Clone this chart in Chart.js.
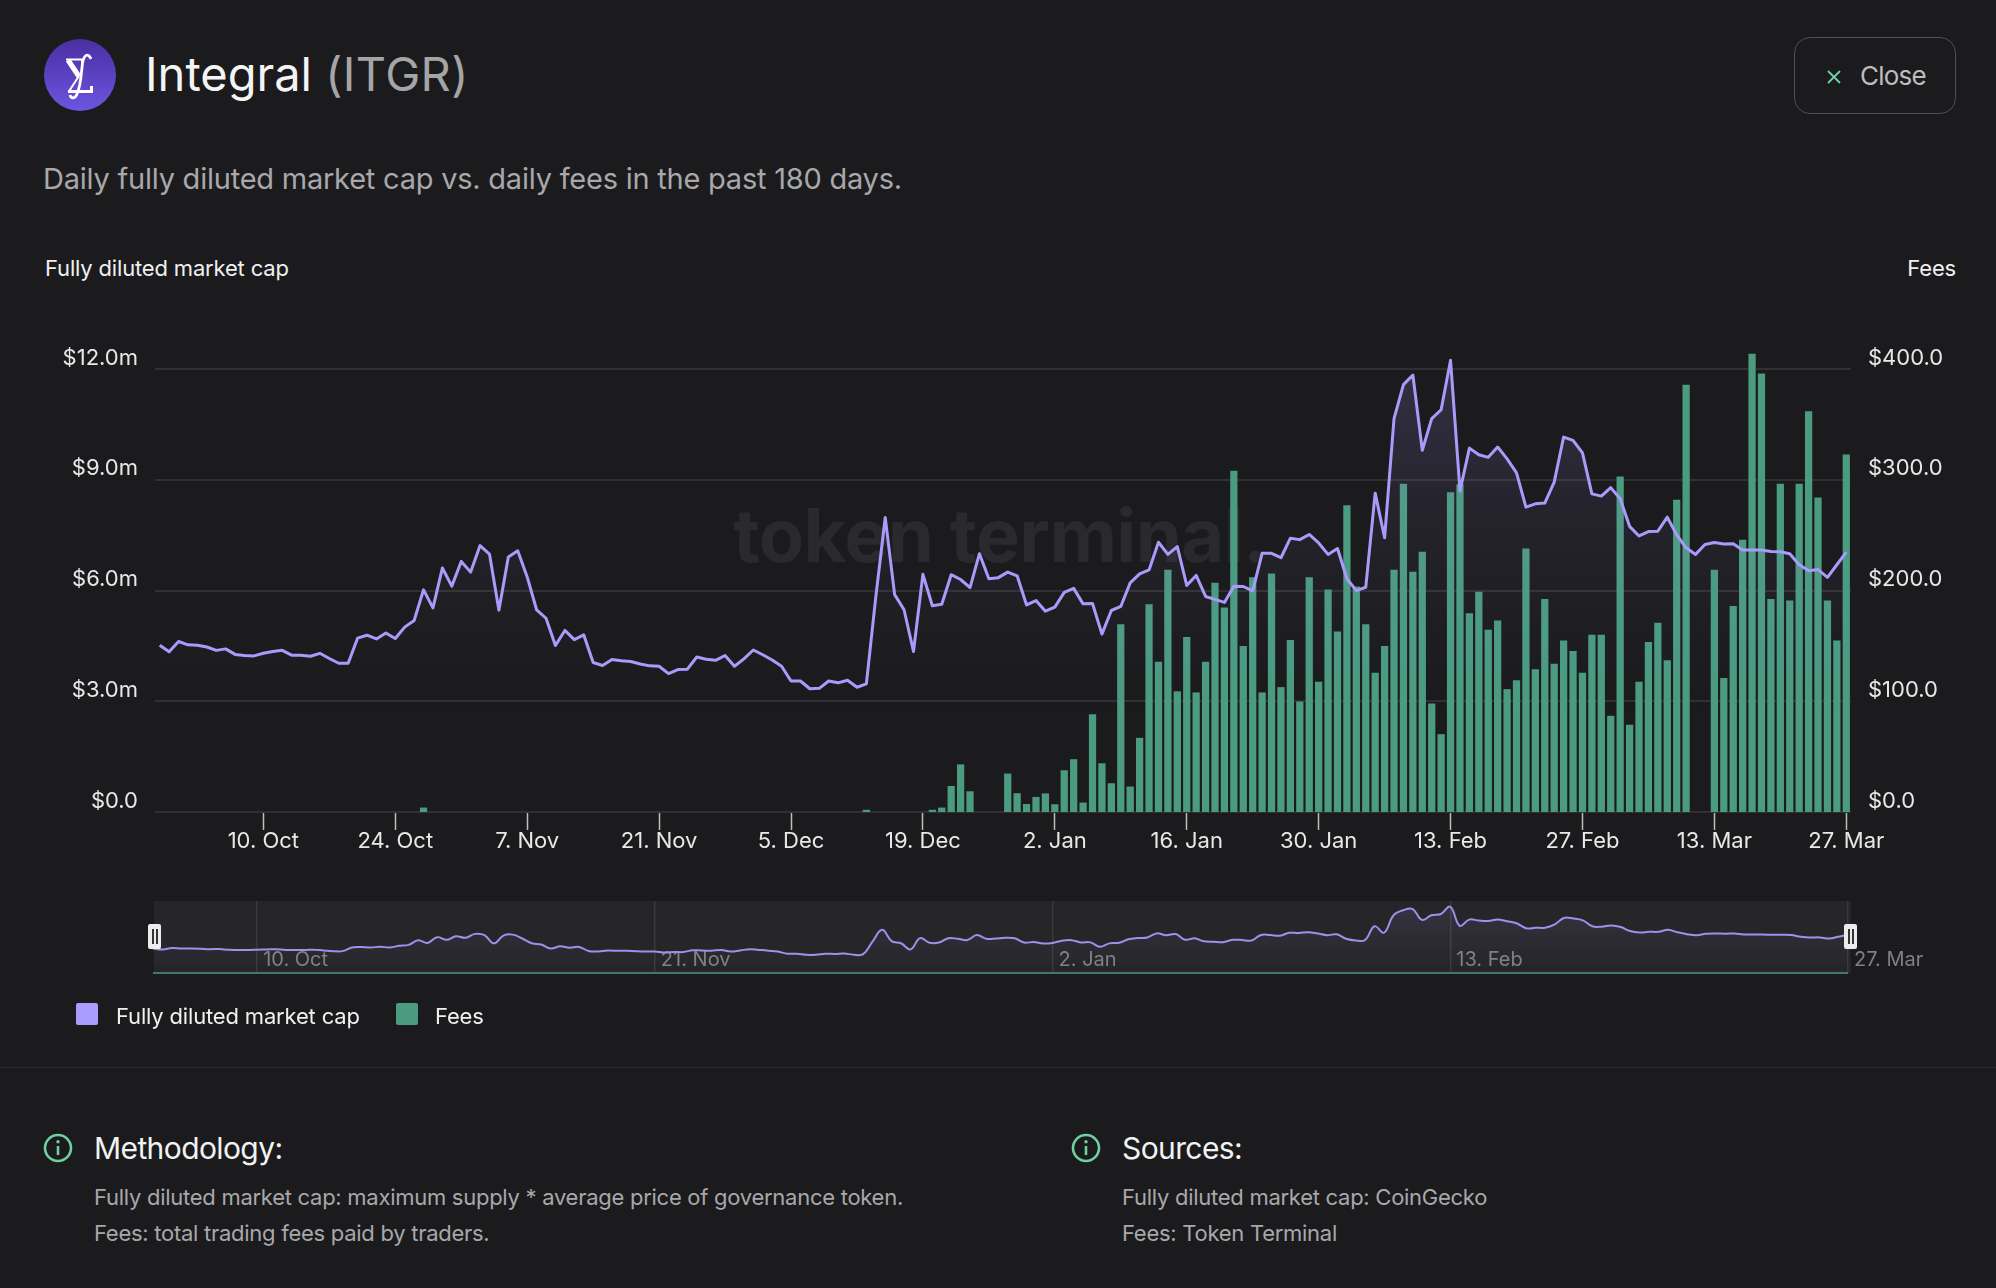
<!DOCTYPE html>
<html>
<head>
<meta charset="utf-8">
<title>Integral (ITGR)</title>
<script src="https://cdn.jsdelivr.net/npm/chart.js@4"></script>
<style>
  html, body { margin: 0; padding: 0; background: #1b1b1d; }
  body { width: 1996px; height: 1288px; position: relative; overflow: hidden; font-family: Inter, sans-serif; }
  .t { position: absolute; white-space: nowrap; line-height: 1; }
  canvas { position: absolute; left: 0; }
  #mainChart { top: 341px; }
  #navChart { top: 895px; }
  #navBox { position: absolute; left: 154px; top: 901px; width: 1697px; height: 73px; background: #262629; }
  .handle { position: absolute; top: 924px; width: 13px; height: 25px; background: #ececec; border-radius: 2px; }
  .handle i { position: absolute; top: 5px; width: 2px; height: 15px; background: #333; }
  .swatch { position: absolute; top: 1003px; width: 22px; height: 22px; border-radius: 2px; }
  #divider { position: absolute; left: 0; top: 1067px; width: 1996px; height: 1px; background: #2e2e30; }
  #closeBtn { position: absolute; left: 1794px; top: 37px; width: 160px; height: 75px; border: 1.5px solid #4e4f50; border-radius: 16px; }
  #watermark { font-weight: 700; font-size: 74px; color: #2a2a2e; left: 733px; top: 498px; letter-spacing: -0.6px; }
  .sub { font-size: 22px; color: #a8a8aa; letter-spacing: -0.27px; }
  .head { font-size: 30px; color: #f2f2f2; letter-spacing: -0.6px; }
  .lab { font-size: 22px; color: #f0f0f0; letter-spacing: -0.17px; }
</style>
</head>
<body>
<svg style="position:absolute;left:44px;top:39px" width="72" height="72" viewBox="0 0 72 72">
  <defs><linearGradient id="logoGrad" x1="0" y1="0" x2="0" y2="1">
    <stop offset="0" stop-color="#4a2ea3"/><stop offset="1" stop-color="#6c55e0"/>
  </linearGradient></defs>
  <circle cx="36" cy="36" r="36" fill="url(#logoGrad)"/>
  <path d="M22 20.5H38V24" fill="none" stroke="#fff" stroke-width="2"/>
  <path d="M24 21L35 37.5" fill="none" stroke="#fff" stroke-width="5"/>
  <path d="M35 37L24.5 53" fill="none" stroke="#fff" stroke-width="2"/>
  <path d="M24 52.5H47.5V47" fill="none" stroke="#fff" stroke-width="3"/>
  <path d="M47 20C44 13 40 16 38.5 24C37 36 37 46 33 55C31 60 27 60 26 56" fill="none" stroke="#fff" stroke-width="2.8"/>
</svg>
<div class="t" style="left:145px;top:50px;font-size:47px;color:#f4f4f4">Integral <span style="color:#a5a5a7;letter-spacing:0.4px">(ITGR)</span></div>
<div id="closeBtn"></div>
<svg style="position:absolute;left:1826px;top:69px" width="16" height="16" viewBox="0 0 16 16"><path d="M2 2L14 14M14 2L2 14" stroke="#6fd0a6" stroke-width="1.8"/></svg>
<div class="t" style="left:1860px;top:63px;font-size:26px;color:#bdbdbd;letter-spacing:-0.8px">Close</div>
<div class="t" style="left:43px;top:164px;font-size:29px;color:#a8a8aa;letter-spacing:-0.23px">Daily fully diluted market cap vs. daily fees in the past 180 days.</div>
<div class="t lab" style="left:45px;top:257px">Fully diluted market cap</div>
<div class="t lab" style="right:40px;top:257px">Fees</div>
<div class="t" id="watermark">token terminal.</div>
<canvas id="mainChart" width="1996" height="520"></canvas>
<div id="navBox"></div>
<canvas id="navChart" width="1996" height="85"></canvas>
<div class="handle" style="left:148px"><i style="left:4px"></i><i style="left:8px"></i></div>
<div class="handle" style="left:1844px"><i style="left:4px"></i><i style="left:8px"></i></div>
<div class="swatch" style="left:76px;background:#ab9cff"></div>
<div class="t lab" style="left:116px;top:1005px">Fully diluted market cap</div>
<div class="swatch" style="left:396px;background:#4a9b80"></div>
<div class="t lab" style="left:435px;top:1005px">Fees</div>
<div id="divider"></div>
<svg style="position:absolute;left:43px;top:1133px" width="30" height="30" viewBox="0 0 30 30"><circle cx="15" cy="15" r="13" fill="none" stroke="#6fcf9f" stroke-width="2.6"/><path d="M15 13V22" stroke="#6fcf9f" stroke-width="2.6"/><circle cx="15" cy="8.8" r="1.7" fill="#6fcf9f"/></svg>
<div class="t head" style="left:94px;top:1133px">Methodology:</div>
<div class="t sub" style="left:94px;top:1186px">Fully diluted market cap: maximum supply * average price of governance token.</div>
<div class="t sub" style="left:94px;top:1222px">Fees: total trading fees paid by traders.</div>
<svg style="position:absolute;left:1071px;top:1133px" width="30" height="30" viewBox="0 0 30 30"><circle cx="15" cy="15" r="13" fill="none" stroke="#6fcf9f" stroke-width="2.6"/><path d="M15 13V22" stroke="#6fcf9f" stroke-width="2.6"/><circle cx="15" cy="8.8" r="1.7" fill="#6fcf9f"/></svg>
<div class="t head" style="left:1122px;top:1133px">Sources:</div>
<div class="t sub" style="left:1122px;top:1186px">Fully diluted market cap: CoinGecko</div>
<div class="t sub" style="left:1122px;top:1222px">Fees: Token Terminal</div>

<script>
const dates = [
  "29. Sep","30. Sep",
  "1. Oct","2. Oct","3. Oct","4. Oct","5. Oct","6. Oct","7. Oct","8. Oct","9. Oct","10. Oct","11. Oct","12. Oct","13. Oct","14. Oct","15. Oct","16. Oct",
  "17. Oct","18. Oct","19. Oct","20. Oct","21. Oct","22. Oct","23. Oct","24. Oct","25. Oct","26. Oct","27. Oct","28. Oct","29. Oct","30. Oct","31. Oct",
  "1. Nov","2. Nov","3. Nov","4. Nov","5. Nov","6. Nov","7. Nov","8. Nov","9. Nov","10. Nov","11. Nov","12. Nov","13. Nov","14. Nov","15. Nov",
  "16. Nov","17. Nov","18. Nov","19. Nov","20. Nov","21. Nov","22. Nov","23. Nov","24. Nov","25. Nov","26. Nov","27. Nov","28. Nov","29. Nov","30. Nov",
  "1. Dec","2. Dec","3. Dec","4. Dec","5. Dec","6. Dec","7. Dec","8. Dec","9. Dec","10. Dec","11. Dec","12. Dec","13. Dec","14. Dec","15. Dec","16. Dec",
  "17. Dec","18. Dec","19. Dec","20. Dec","21. Dec","22. Dec","23. Dec","24. Dec","25. Dec","26. Dec","27. Dec","28. Dec","29. Dec","30. Dec","31. Dec",
  "1. Jan","2. Jan","3. Jan","4. Jan","5. Jan","6. Jan","7. Jan","8. Jan","9. Jan","10. Jan","11. Jan","12. Jan","13. Jan","14. Jan","15. Jan","16. Jan",
  "17. Jan","18. Jan","19. Jan","20. Jan","21. Jan","22. Jan","23. Jan","24. Jan","25. Jan","26. Jan","27. Jan","28. Jan","29. Jan","30. Jan","31. Jan",
  "1. Feb","2. Feb","3. Feb","4. Feb","5. Feb","6. Feb","7. Feb","8. Feb","9. Feb","10. Feb","11. Feb","12. Feb","13. Feb","14. Feb",
  "15. Feb","16. Feb","17. Feb","18. Feb","19. Feb","20. Feb","21. Feb","22. Feb","23. Feb","24. Feb","25. Feb","26. Feb","27. Feb","28. Feb",
  "1. Mar","2. Mar","3. Mar","4. Mar","5. Mar","6. Mar","7. Mar","8. Mar","9. Mar","10. Mar","11. Mar","12. Mar","13. Mar","14. Mar",
  "15. Mar","16. Mar","17. Mar","18. Mar","19. Mar","20. Mar","21. Mar","22. Mar","23. Mar","24. Mar","25. Mar","26. Mar","27. Mar"
];

// fully diluted market cap, $m
const marketCap = [
  4.52,4.34,4.62,4.53,4.52,4.47,4.38,4.42,4.27,4.24,
  4.23,4.30,4.35,4.38,4.25,4.25,4.22,4.30,4.16,4.03,
  4.03,4.71,4.79,4.69,4.85,4.70,5.01,5.19,6.02,5.53,
  6.61,6.12,6.79,6.50,7.22,6.99,5.47,6.91,7.08,6.37,
  5.48,5.25,4.51,4.92,4.67,4.80,4.05,3.97,4.13,4.10,
  4.08,4.01,3.96,3.95,3.75,3.86,3.87,4.20,4.14,4.11,
  4.24,3.95,4.15,4.39,4.26,4.12,3.95,3.55,3.55,3.34,
  3.35,3.55,3.50,3.57,3.38,3.47,5.83,7.98,5.89,5.48,
  4.35,6.44,5.59,5.63,6.43,6.30,6.08,7.00,6.32,6.35,
  6.50,6.40,5.61,5.73,5.44,5.55,5.95,6.06,5.64,5.65,
  4.82,5.46,5.57,6.21,6.45,6.56,7.31,6.98,7.19,6.14,
  6.41,5.84,5.76,5.68,6.12,6.11,5.99,7.01,7.01,6.89,
  7.42,7.38,7.52,7.29,6.98,7.14,6.32,6.00,6.09,8.64,
  7.43,10.66,11.58,11.84,9.80,10.66,10.90,12.24,8.70,9.86,
  9.68,9.61,9.89,9.57,9.19,8.26,8.35,8.37,8.94,10.16,
  10.07,9.73,8.62,8.56,8.79,8.49,7.74,7.48,7.60,7.61,
  7.99,7.51,7.16,6.98,7.25,7.30,7.26,7.27,7.10,7.10,
  7.10,7.06,7.05,7.00,6.70,6.54,6.57,6.36,6.70,7.04
];

// daily fees, $
const fees = [
  0,0,0,0,0,0,0,0,0,0,
  0,0,0,0,0,0,0,0,0,0,
  0,0,0,0,0,0,0,0,4,0,
  0,0,0,0,0,0,0,0,0,0,
  0,0,0,0,0,0,0,0,0,0,
  0,0,0,0,0,0,0,0,0,0,
  0,0,0,0,0,0,0,0,0,0,
  0,0,0,0,0,2,0,0,0,0,
  0,0,2,4,23.5,43,18.7,0,0,0,
  34.7,17,7.2,13.6,16.8,7,37.7,47.7,8.5,88.4,
  44,26,169.5,23,67,187.6,135.7,218.7,109,158,
  108,135.7,207,184.6,308.3,150,212,108,215.4,112.8,
  155.4,99.8,212,117.6,201,163,277,203.6,169.5,125.8,
  150,218.7,296.5,217,235,98,70.3,288.7,296,179.5,
  199,164.7,172.9,111,119,238,129,192.5,134,155,
  145.4,125.8,160,160,86.9,303,78.7,117.6,153.5,171,
  137,282,386,0,0,218.7,121,186,246,414,
  396,192.5,296.5,191,296.5,362,284,191,155,322.8
];

const capTicks = [0, 3, 6, 9, 12];
const feeTicks = [0, 100, 200, 300, 400];
const mainTickDays = ["10. Oct","24. Oct","7. Nov","21. Nov","5. Dec","19. Dec","2. Jan","16. Jan","30. Jan","13. Feb","27. Feb","13. Mar","27. Mar"];
const navTickDays = ["10. Oct","21. Nov","2. Jan","13. Feb","27. Mar"];

const LINE = "#a99bfb";
const BAR = "#4a9b80";
const FONT = "Inter, sans-serif";

function mainArea(context) {
  if (!context.chart.chartArea) return "transparent";
  const g = context.chart.ctx.createLinearGradient(0, 28, 0, 379);
  g.addColorStop(0, "rgba(170, 155, 255, 0.17)");
  g.addColorStop(0.4, "rgba(170, 155, 255, 0.07)");
  g.addColorStop(0.72, "rgba(170, 155, 255, 0.025)");
  g.addColorStop(1, "rgba(170, 155, 255, 0)");
  return g;
}

function navArea(context) {
  if (!context.chart.chartArea) return "transparent";
  const g = context.chart.ctx.createLinearGradient(0, 5, 0, 75);
  g.addColorStop(0, "rgba(170, 155, 255, 0.12)");
  g.addColorStop(1, "rgba(170, 155, 255, 0)");
  return g;
}

// keep only the listed days as ticks
function keepTicks(days) {
  return scale => {
    scale.ticks = days.map(d => ({ value: dates.indexOf(d) }));
  };
}

new Chart(document.getElementById("mainChart"), {
  type: "bar",
  data: {
    labels: dates,
    datasets: [
      {
        type: "line",
        label: "Fully diluted market cap",
        data: marketCap,
        yAxisID: "cap",
        order: 0,
        borderColor: LINE,
        borderWidth: 3,
        borderJoinStyle: "round",
        pointRadius: 0,
        tension: 0,
        fill: "origin",
        backgroundColor: mainArea
      },
      {
        label: "Fees",
        data: fees,
        yAxisID: "fees",
        order: 1,
        backgroundColor: BAR,
        categoryPercentage: 1,
        barPercentage: 0.77
      }
    ]
  },
  options: {
    responsive: false,
    animation: false,
    devicePixelRatio: 1,
    layout: { padding: { top: 6, left: 0, right: 0, bottom: 0 } },
    plugins: { legend: { display: false } },
    scales: {
      x: {
        type: "category",
        offset: true,
        afterBuildTicks: keepTicks(mainTickDays),
        afterFit: s => { s.height = 49; s.paddingLeft = 0; s.paddingRight = 0; },
        border: { display: false },
        grid: { offset: false, drawOnChartArea: false, tickLength: 18, tickColor: "#bdbdbd", tickWidth: 1.5 },
        ticks: { autoSkip: false, maxRotation: 0, padding: -2, color: "#e8e8e8", font: { family: FONT, size: 22 } }
      },
      cap: {
        position: "left",
        min: 0,
        max: 12.6,
        afterBuildTicks: s => { s.ticks = capTicks.map(v => ({ value: v })); },
        afterFit: s => { s.width = 155; s.paddingTop = 0; s.paddingBottom = 0; },
        border: { display: false },
        grid: { color: "#303032", lineWidth: 2, drawTicks: false },
        ticks: {
          padding: 17,
          labelOffset: -11,
          color: "#e8e8e8",
          font: { family: FONT, size: 22 },
          callback: v => (v === 0 ? "$0.0" : `$${v.toFixed(1)}m`)
        }
      },
      fees: {
        position: "right",
        min: 0,
        max: 420,
        afterBuildTicks: s => { s.ticks = feeTicks.map(v => ({ value: v })); },
        afterFit: s => { s.width = 145; s.paddingTop = 0; s.paddingBottom = 0; },
        border: { display: false },
        grid: { display: false, drawTicks: false },
        ticks: {
          padding: 17,
          labelOffset: -11,
          color: "#e8e8e8",
          font: { family: FONT, size: 22 },
          callback: v => `$${v.toFixed(1)}`
        }
      }
    }
  }
});

// navigator strip under the main chart: both series share one axis, so fees stay flat
new Chart(document.getElementById("navChart"), {
  type: "line",
  data: {
    labels: dates,
    datasets: [
      {
        data: marketCap,
        borderColor: "#9f90ec",
        borderWidth: 2,
        pointRadius: 0,
        tension: 0.4,
        fill: "origin",
        backgroundColor: navArea
      },
      {
        data: fees.map(v => v / 1e6),
        borderColor: "#3f7a66",
        borderWidth: 2,
        pointRadius: 0
      }
    ]
  },
  options: {
    responsive: false,
    animation: false,
    devicePixelRatio: 1,
    layout: { padding: { top: 6, left: 153, right: 148, bottom: 0 } },
    plugins: { legend: { display: false }, tooltip: { enabled: false } },
    scales: {
      x: {
        type: "category",
        offset: false,
        afterBuildTicks: keepTicks(navTickDays),
        afterFit: s => { s.height = 6; s.paddingLeft = 0; s.paddingRight = 0; },
        border: { display: false },
        grid: { offset: false, color: "#39393b", lineWidth: 1.5, drawTicks: false },
        // mirror turns off the clip to the axis box, so the labels can sit inside the strip
        ticks: { autoSkip: false, maxRotation: 0, mirror: true, align: "start", padding: 2, labelOffset: 6, color: "#808083", font: { family: FONT, size: 20 } }
      },
      y: { display: false, min: -0.2, max: 13.3 }
    }
  }
});
</script>
</body>
</html>
